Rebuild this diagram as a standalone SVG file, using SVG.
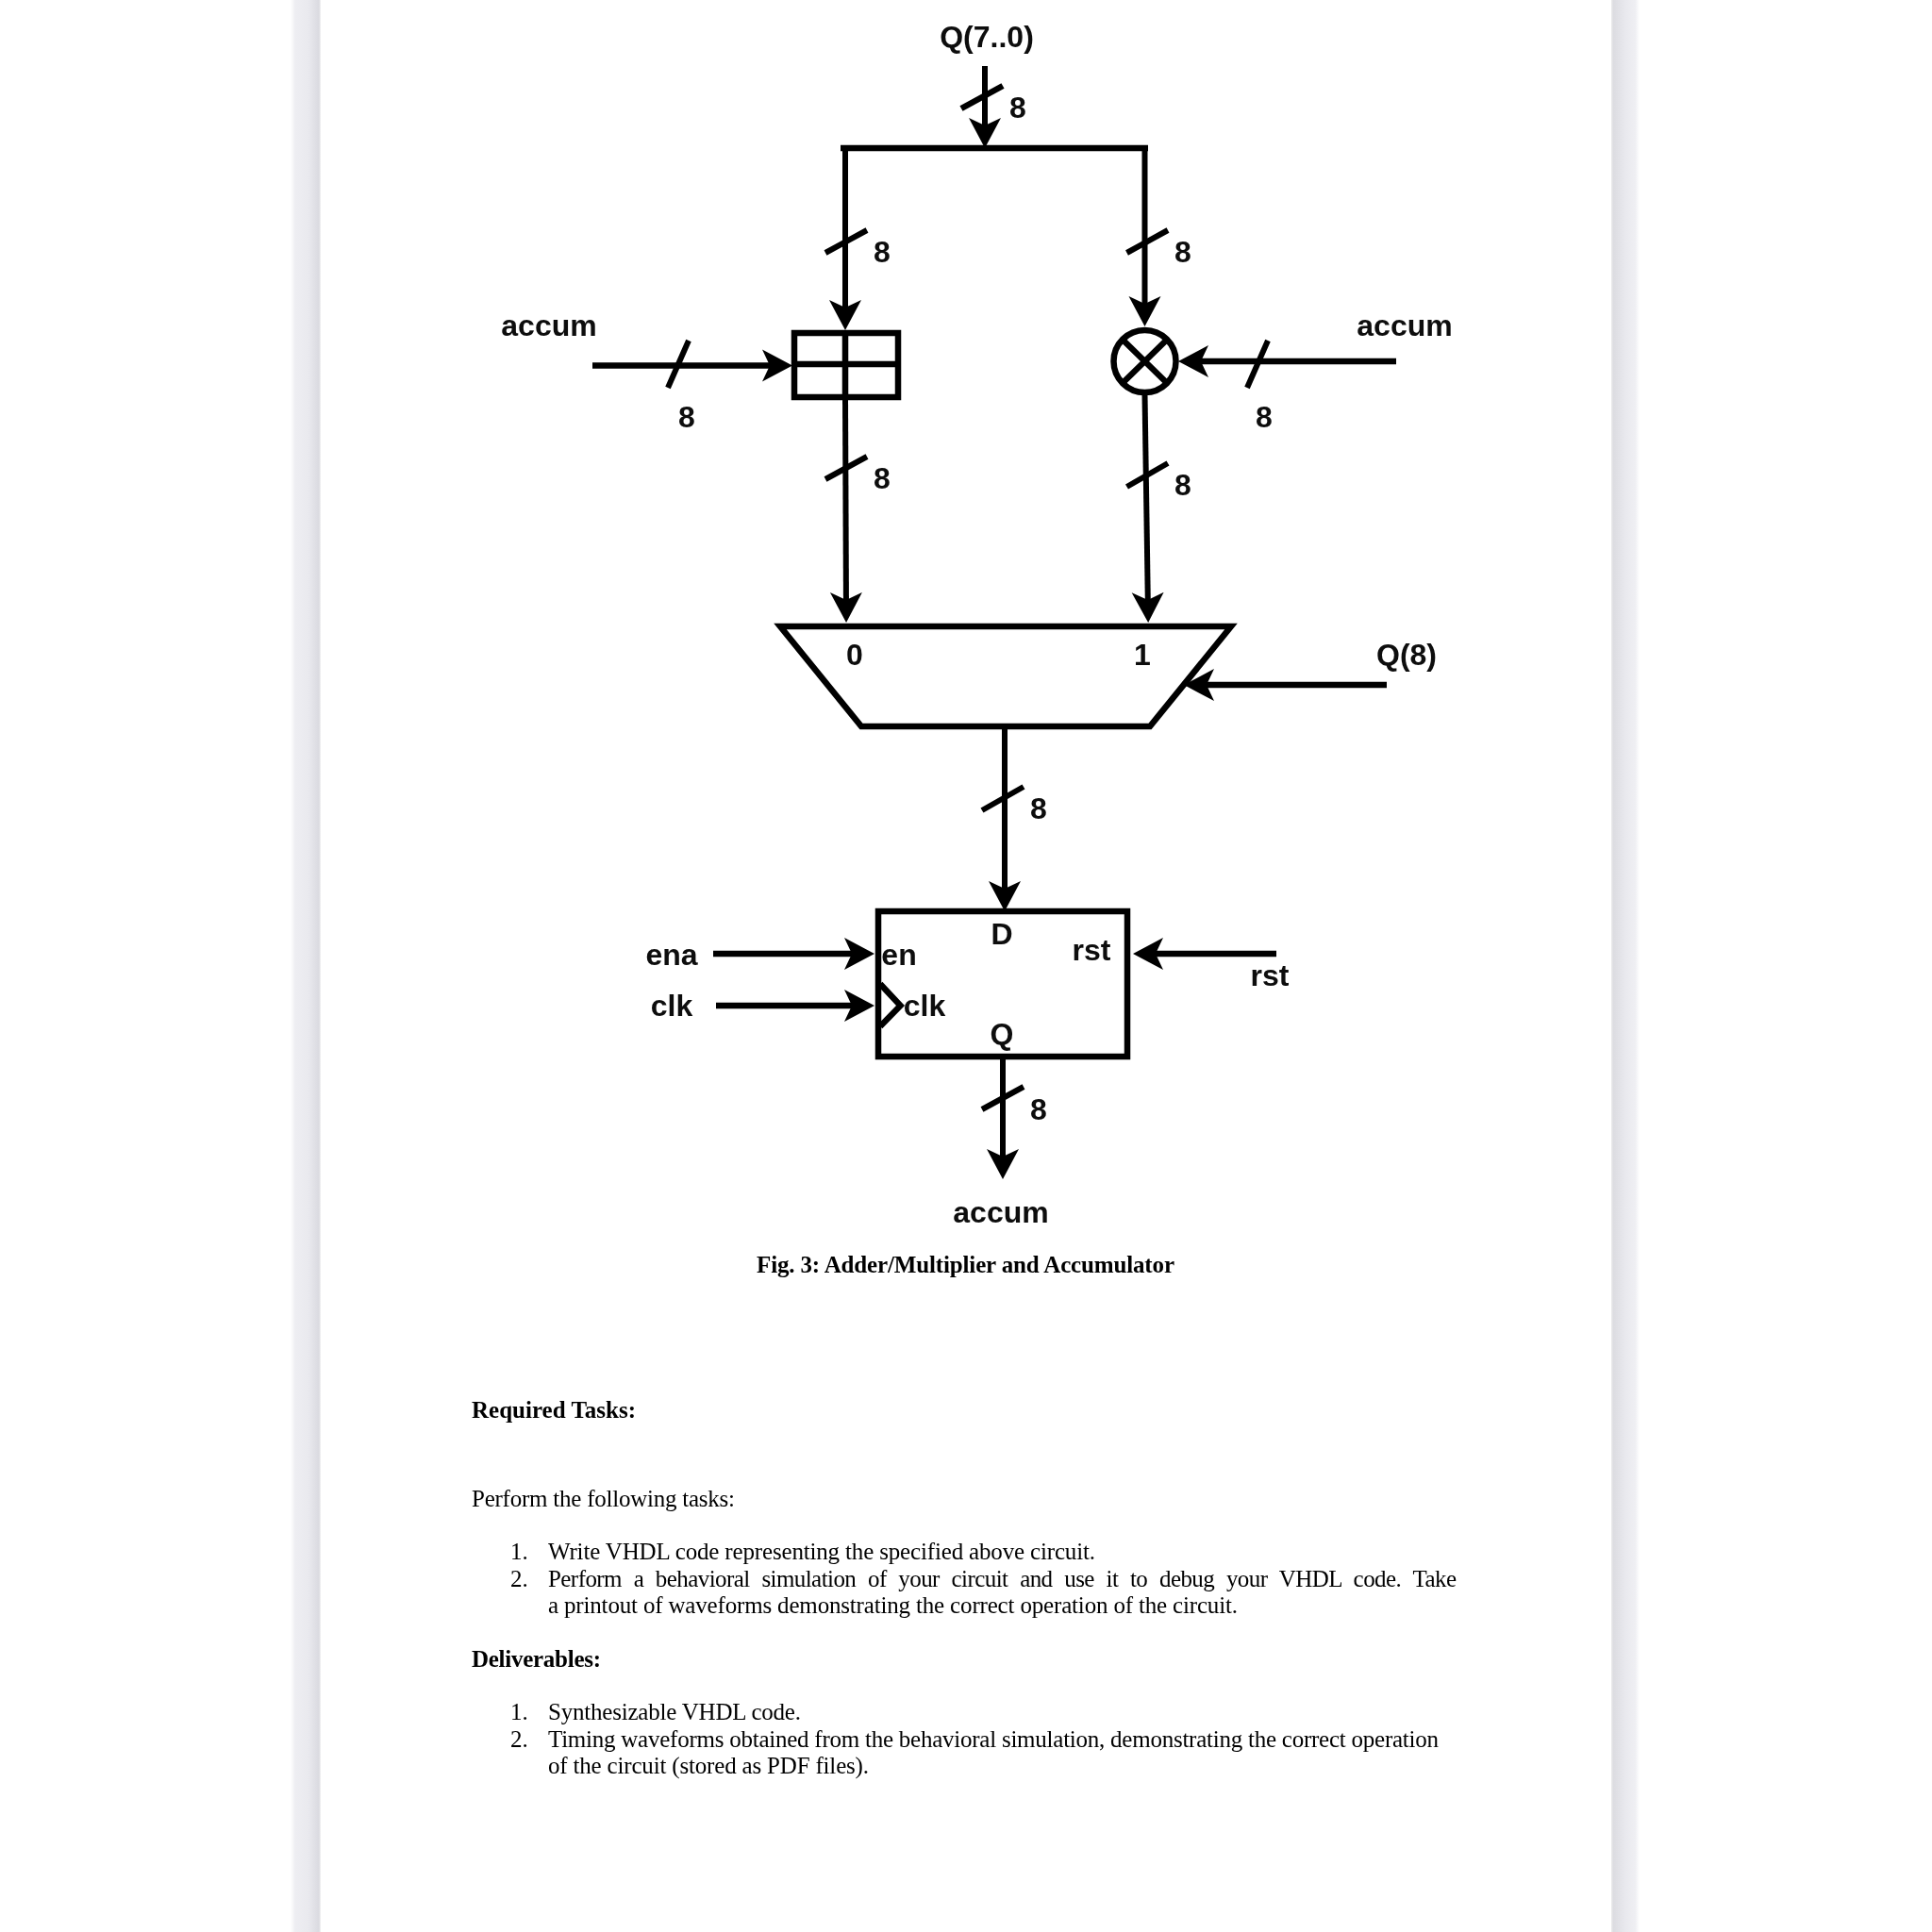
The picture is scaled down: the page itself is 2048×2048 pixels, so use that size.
<svg xmlns="http://www.w3.org/2000/svg" width="2048" height="2048" viewBox="0 0 2048 2048">
<style>
.w{fill:none;stroke:#000;stroke-width:6}
.a{marker-end:url(#arrow)}
.s{fill:none;stroke:#000;stroke-width:6.5}
.l{font-family:"Liberation Sans",Arial,sans-serif;font-weight:700;font-size:32px;fill:#0c0c0c;text-anchor:middle}
.t{font-family:"Liberation Serif","Times New Roman",serif;font-size:25px;fill:#000}
.b{font-weight:700}
</style>
<defs>
<linearGradient id="bl" x1="0" x2="1" y1="0" y2="0"><stop offset="0" stop-color="#fff"/><stop offset=".15" stop-color="#eeeef2"/><stop offset=".6" stop-color="#e9e9ee"/><stop offset=".94" stop-color="#dadae0"/><stop offset="1" stop-color="#f4f4f4"/></linearGradient>
<linearGradient id="br" x1="0" x2="1" y1="0" y2="0"><stop offset="0" stop-color="#ececec"/><stop offset=".08" stop-color="#dcdce1"/><stop offset=".5" stop-color="#e9e9ee"/><stop offset=".85" stop-color="#efeff3"/><stop offset="1" stop-color="#fff"/></linearGradient>
<marker id="arrow" markerUnits="userSpaceOnUse" markerWidth="36" markerHeight="38" viewBox="0 -19 36 38" refX="22" refY="0" orient="auto"><path d="M0,-17 L32,0 L0,17 L8,0 Z" fill="#000"/></marker>
<filter id="soft" x="0" y="0" width="1" height="1" filterUnits="objectBoundingBox"><feGaussianBlur stdDeviation="0.7"/></filter>
</defs>
<rect id="page" width="2048" height="2048" fill="#fff"/>
<rect x="308" y="0" width="32" height="2048" fill="url(#bl)"/>
<rect x="1708" y="0" width="30" height="2048" fill="url(#br)"/>
<g filter="url(#soft)">
<g id="connectors">
<path class="w a" d="M1044,70V147"/>
<path class="s" d="M1019,115L1063,91"/>
<path class="s" d="M891,157H1217"/>
<path class="w a" d="M896,157V340"/>
<path class="w a" d="M1213.500,157V336"/>
<path class="w a" d="M896,421L897,650"/>
<path class="w a" d="M1213.500,418L1217,650"/>
<path class="s a" d="M628,387.500H830"/>
<path class="s a" d="M1480,383H1259"/>
<path class="w a" d="M1065,770V956"/>
<path class="w a" d="M1063,1120V1240"/>
<path class="s a" d="M756,1011H917"/>
<path class="s a" d="M759,1066H917"/>
<path class="s a" d="M1353,1011H1211"/>
<path class="s a" d="M1470,726H1265"/>
<path class="w" d="M875,268L919,244M1194.500,268L1238,244M875,508L919,484M1194.500,516L1238,491M1041,859L1085,834M1041,1176L1085,1152M708,411L730,361M1322,411L1344,361"/>
</g>
<g id="adder"><rect class="s" x="842" y="353" width="110" height="68"/><path class="s" d="M842,386H952M896,353V421"/></g>
<g id="multiplier"><circle class="s" cx="1213.500" cy="383" r="33"/><path class="s" d="M1190,360L1237,406M1237,360L1190,406"/></g>
<g id="mux"><path class="s" d="M827,664H1305L1219,770H913Z"/><text class="l" x="906" y="705">0</text><text class="l" x="1211" y="705">1</text></g>
<g id="register"><rect class="s" x="931" y="966" width="264" height="154"/><path class="s" d="M933,1043L954.500,1066L933,1088"/>
<text class="l" x="1062" y="1001">D</text><text class="l" x="1062" y="1107">Q</text><text class="l" x="1157" y="1018">rst</text><text class="l" x="953" y="1023">en</text><text class="l" x="980" y="1077">clk</text></g>
<g id="labels">
<text class="l" x="1046" y="50">Q(7..0)</text>
<text class="l" x="582" y="356">accum</text>
<text class="l" x="1489" y="356">accum</text>
<text class="l" x="1491" y="705">Q(8)</text>
<text class="l" x="712" y="1023">ena</text>
<text class="l" x="712" y="1077">clk</text>
<text class="l" x="1346" y="1045">rst</text>
<text class="l" x="1061" y="1296">accum</text>
<text class="l" x="1079" y="125">8</text>
<text class="l" x="935" y="278">8</text>
<text class="l" x="1254" y="278">8</text>
<text class="l" x="728" y="453">8</text>
<text class="l" x="1340" y="453">8</text>
<text class="l" x="935" y="518">8</text>
<text class="l" x="1254" y="525">8</text>
<text class="l" x="1101" y="868">8</text>
<text class="l" x="1101" y="1187">8</text>
</g>
<g id="text">
<text class="t b" x="802" y="1349" textLength="443">Fig. 3: Adder/Multiplier and Accumulator</text>
<text class="t b" x="500" y="1503" textLength="174">Required Tasks:</text>
<text class="t" x="500" y="1597" textLength="279">Perform the following tasks:</text>
<text class="t" x="541" y="1653">1.</text>
<text class="t" x="581" y="1653" textLength="580">Write VHDL code representing the specified above circuit.</text>
<text class="t" x="541" y="1682">2.</text>
<text class="t" x="581" y="1682" word-spacing="7" textLength="963">Perform a behavioral simulation of your circuit and use it to debug your VHDL code. Take</text>
<text class="t" x="581" y="1710" textLength="731">a printout of waveforms demonstrating the correct operation of the circuit.</text>
<text class="t b" x="500" y="1767" textLength="137">Deliverables:</text>
<text class="t" x="541" y="1823">1.</text>
<text class="t" x="581" y="1823" textLength="268">Synthesizable VHDL code.</text>
<text class="t" x="541" y="1852">2.</text>
<text class="t" x="581" y="1852" textLength="944">Timing waveforms obtained from the behavioral simulation, demonstrating the correct operation</text>
<text class="t" x="581" y="1880" textLength="340">of the circuit (stored as PDF files).</text>
</g>
</g>
</svg>
